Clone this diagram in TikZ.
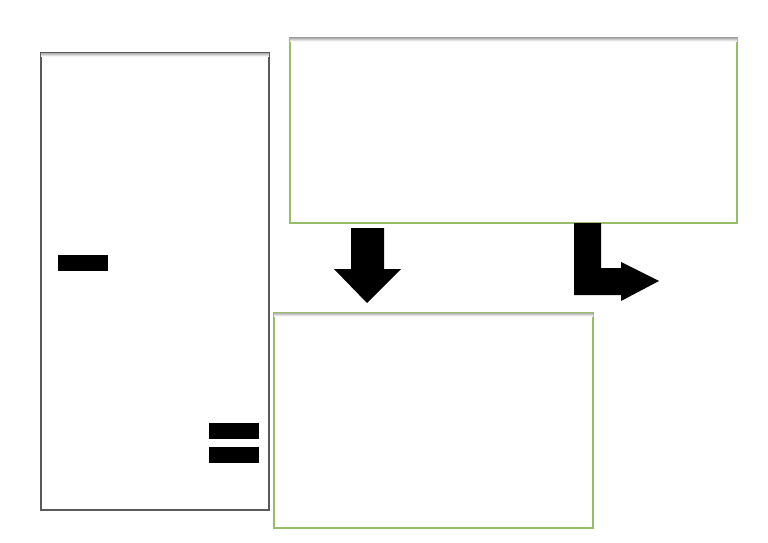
\documentclass[tikz,border=0pt]{standalone}
\usetikzlibrary{positioning}
\definecolor{boxgreen}{RGB}{150,190,105}
\definecolor{boxgray}{RGB}{90,90,90}
\tikzset{
  panel/.style={draw=boxgreen, line width=1.4pt, fill=white, inner sep=0pt},
  grayPanel/.style={panel, draw=boxgray, line width=1.2pt},
  bar/.style={fill=black, inner sep=0pt, minimum width=50pt, minimum height=16pt},
  blockArrow/.style={fill=black}
}
\begin{document}
\begin{tikzpicture}[x=1pt, y=-1pt]
        \useasboundingbox (0,0) rectangle (768,543);

        % Panels
        \node[grayPanel, minimum width=228pt, minimum height=457pt] (left) at (155,281.5) {};
        \node[panel, minimum width=447pt, minimum height=185pt] (top) at (513.5,130.5) {};
        \node[panel, minimum width=319pt, minimum height=215pt] (bottom) at (433.5,420.5) {};

        % Top shadows (faint)
        \foreach \p in {left, top, bottom}
          \shade[top color=gray!60, bottom color=white]
            ([shift={(0.7,0.7)}]\p.north west) rectangle ([shift={(-0.7,4)}]\p.north east);

        % Signs
        \node[bar] (minus) at (83,263) {};
        \node[bar] (eqTop) at (234,431) {};
        \node[bar, below=8pt of eqTop] (eqBot) {};

        % Down arrow
        \fill[blockArrow] (351,228) -- (384,228) -- (384,269) -- (401,269) -- (367,303)
          -- (334,269) -- (351,269) -- cycle;

        % Bent arrow
        \fill[blockArrow] (574,223) -- (601,223) -- (601,268) -- (621,268) -- (621,262)
          -- (659,281) -- (621,301) -- (621,295) -- (574,295) -- cycle;
      \end{tikzpicture}
\end{document}
